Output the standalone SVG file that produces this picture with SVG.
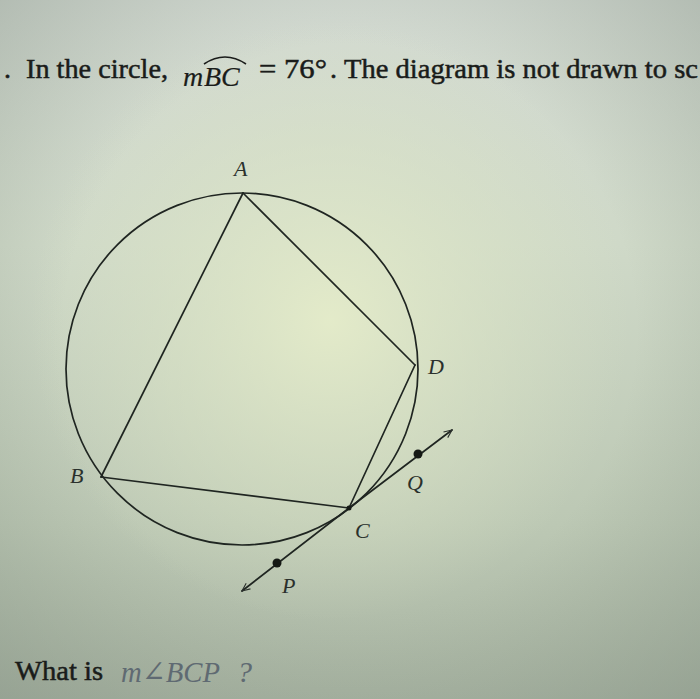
<svg xmlns="http://www.w3.org/2000/svg" width="700" height="699" viewBox="0 0 700 699">
<defs>
<linearGradient id="bgv" x1="0" y1="0" x2="0" y2="1">
<stop offset="0" stop-color="#d3dad2"/>
<stop offset="0.35" stop-color="#cfd9c8"/>
<stop offset="0.75" stop-color="#bcc8b4"/>
<stop offset="1" stop-color="#a8b4a2"/>
</linearGradient>
<radialGradient id="glow" cx="330" cy="320" r="300" gradientUnits="userSpaceOnUse">
<stop offset="0" stop-color="#e6edca" stop-opacity="0.9"/>
<stop offset="0.6" stop-color="#dce5c6" stop-opacity="0.45"/>
<stop offset="1" stop-color="#dce5c6" stop-opacity="0"/>
</radialGradient>
<radialGradient id="vig" cx="350" cy="330" r="520" gradientUnits="userSpaceOnUse">
<stop offset="0.55" stop-color="#7f8c80" stop-opacity="0"/>
<stop offset="1" stop-color="#7f8c80" stop-opacity="0.45"/>
</radialGradient>
<marker id="arr" viewBox="0 0 10 10" refX="9" refY="5" markerWidth="10" markerHeight="10" markerUnits="userSpaceOnUse" orient="auto-start-reverse">
<path d="M1,1.5 L9,5 L1,8.5" fill="none" stroke="#2a302c" stroke-width="1.1"/>
</marker>
<style>
.ln{stroke:#1f2521;stroke-width:1.7;fill:none;stroke-linecap:round}
.lb{font-family:'Liberation Serif','DejaVu Serif',serif;font-style:italic;font-size:22px;fill:#2a302c}
.tt{font-family:'Liberation Serif','DejaVu Serif',serif;font-size:28px;fill:#1a1c1a;stroke:#1a1c1a;stroke-width:0.5}
.it{font-style:italic;stroke-width:0.2}
.gy{font-family:'Liberation Serif','DejaVu Serif',serif;font-style:italic;font-size:30px;fill:#5f6a72}
.dot{fill:#151915}
</style>
</defs>
<rect width="700" height="699" fill="url(#bgv)"/>
<rect width="700" height="699" fill="url(#glow)"/>
<rect width="700" height="699" fill="url(#vig)"/>

<g id="title">
<text class="tt" x="4" y="78">.</text>
<text class="tt" x="26" y="78" textLength="142" lengthAdjust="spacingAndGlyphs">In the circle,</text>
<text class="tt it" x="183" y="86">m</text>
<text class="tt it" x="204" y="86">BC</text>
<path d="M204,64 Q225,50 246,64" fill="none" stroke="#1a1c1a" stroke-width="1.6"/>
<text class="tt" x="259" y="78" stroke-width="0.2" textLength="68" lengthAdjust="spacingAndGlyphs">= 76°</text>
<text class="tt" x="330" y="78">.</text>
<text class="tt" x="344" y="78" textLength="354" lengthAdjust="spacingAndGlyphs">The diagram is not drawn to sc</text>
</g>

<g id="circle">
<circle class="ln" cx="242" cy="369" r="176"/>
</g>

<g id="connectors">
<line class="ln" x1="243" y1="193" x2="101" y2="477"/>
<line class="ln" x1="243" y1="193" x2="415" y2="365"/>
<line class="ln" x1="101" y1="477" x2="349" y2="508"/>
<line class="ln" x1="415" y1="365" x2="349" y2="508"/>
<line class="ln" x1="349" y1="508" x2="452" y2="430" stroke-width="1.3" marker-end="url(#arr)"/>
<line class="ln" x1="349" y1="508" x2="242" y2="591" stroke-width="1.3" marker-end="url(#arr)"/>
</g>

<g id="node-A"><text class="lb" x="234" y="176">A</text></g>
<g id="node-B"><text class="lb" x="70" y="483">B</text></g>
<g id="node-C"><circle class="dot" cx="349" cy="508" r="2.5"/><text class="lb" x="355" y="538">C</text></g>
<g id="node-D"><text class="lb" x="428" y="374">D</text></g>
<g id="node-P"><circle class="dot" cx="277" cy="563" r="4.5"/><text class="lb" x="282" y="593">P</text></g>
<g id="node-Q"><circle class="dot" cx="418" cy="454" r="4.5"/><text class="lb" x="407" y="490">Q</text></g>

<g id="question">
<text class="tt" x="15" y="680" stroke-width="0.3" textLength="88" lengthAdjust="spacingAndGlyphs">What is</text>
<text class="gy" x="121" y="682" textLength="99" lengthAdjust="spacingAndGlyphs">m∠BCP</text>
<text class="gy" x="237" y="682" font-style="normal">?</text>
</g>
</svg>
